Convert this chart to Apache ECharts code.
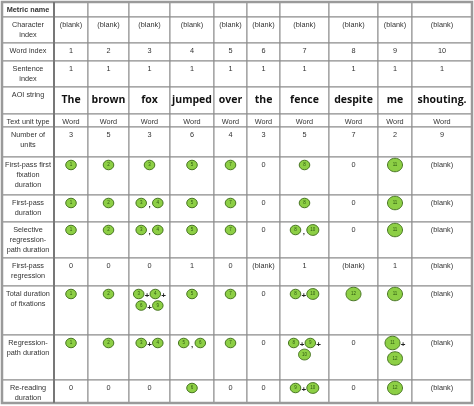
<!DOCTYPE html><html><head><meta charset="utf-8">
<script src="https://cdn.jsdelivr.net/npm/echarts@6/dist/echarts.min.js"></script>
<style>html,body{margin:0;padding:0;background:#fff}#c{width:474px;height:406px}</style></head>
<body><div id="c"></div><script>
const metricNames=["Metric name","Character\nindex","Word index","Sentence\nindex","AOI string","Text unit type","Number of\nunits","First-pass first\nfixation\nduration","First-pass\nduration","Selective\nregression-\npath duration","First-pass\nregression","Total duration\nof fixations","Regression-\npath duration","Re-reading\nduration"];
const words=["The","brown","fox","jumped","over","the","fence","despite","me","shouting."];
const charIndex=["(blank)","(blank)","(blank)","(blank)","(blank)","(blank)","(blank)","(blank)","(blank)","(blank)"];
const wordIndex=["1","2","3","4","5","6","7","8","9","10"];
const sentenceIndex=["1","1","1","1","1","1","1","1","1","1"];
const unitType=["Word","Word","Word","Word","Word","Word","Word","Word","Word","Word"];
const numUnits=["3","5","3","6","4","3","5","7","2","9"];
// "@n" = numbered fixation circle, "|" = new line
const firstFix=["@1","@2","@3","@5","@7","0","@8","0","@11","(blank)"];
const firstPass=["@1","@2","@3 , @4","@5","@7","0","@8","0","@11","(blank)"];
const selRegPath=["@1","@2","@3 , @4","@5","@7","0","@8 , @10","0","@11","(blank)"];
const fpRegression=["0","0","0","1","0","(blank)","1","(blank)","1","(blank)"];
const totalDur=["@1","@2","@3 + @4 +|@6 + @9","@5","@7","0","@8 + @10","@12","@11","(blank)"];
const regPath=["@1","@2","@3 + @4","@5 , @6","@7","0","@8 + @9 +|@10","0","@11 +|@12","(blank)"];
const rereading=["0","0","0","@6","0","0","@9 + @10","0","@12","(blank)"];
const rows=[Array(10).fill(""),charIndex,wordIndex,sentenceIndex,words,unitType,numUnits,firstFix,firstPass,selRegPath,fpRegression,totalDur,regPath,rereading];

// layout (pixel-space axis units)
const colEdges=[2,54,88,129,170,214,247,280,329,378,412,472];
const rowEdges=[2,17,43,61,87,114,127,157,195,222,258,286,335,380,403];

const data=[];
rows.forEach((r,ri)=>{data.push([0,ri,metricNames[ri]]);r.forEach((v,ci)=>data.push([ci+1,ri,v]));});

function renderItem(params,api){
  const d=data[params.dataIndex];const ci=d[0],ri=d[1],txt=d[2];
  const p0=api.coord([colEdges[ci],rowEdges[ri]]),p1=api.coord([colEdges[ci+1],rowEdges[ri+1]]);
  const x0=p0[0],y0=p0[1],x1=p1[0],y1=p1[1],cx=(x0+x1)/2;
  const ch=[{type:'rect',shape:{x:x0,y:y0,width:x1-x0,height:y1-y0},style:{fill:'#fff',stroke:'#8a8a8a',lineWidth:1}}];
  if(ci===0){
    ch.push({type:'text',style:{text:txt,x:cx,y:y0+3,align:'center',verticalAlign:'top',fontSize:7.3,fontWeight:ri===0?'bold':'normal',fill:'#333',fontFamily:'Liberation Sans',lineHeight:9.8}});
    return {type:'group',children:ch};
  }
  if(ri===4){
    ch.push({type:'text',style:{text:txt,x:cx,y:(y0+y1)/2,align:'center',verticalAlign:'middle',fontSize:10.5,fontWeight:'bold',fill:'#111',fontFamily:'Open Sans'}});
    return {type:'group',children:ch};
  }
  if(txt.indexOf('@')<0){
    ch.push({type:'text',style:{text:txt,x:cx,y:y0+4,align:'center',verticalAlign:'top',fontSize:7.3,fill:'#333',fontFamily:'Liberation Sans'}});
    return {type:'group',children:ch};
  }
  const lines=txt.split('|');
  let ly=y0+8;
  lines.forEach(line=>{
    const items=line.trim().split(' ').map(t=>{
      if(t[0]==='@'){const n=+t.slice(1);const r=n>=10?(n===10?6:7.5):5.3;return {c:true,n:n,w:2*r+1,r:r};}
      return {c:false,t:t,w:5};
    });
    const tw=items.reduce((s,i)=>s+i.w,0);
    let x=cx-tw/2;let maxr=5;
    items.forEach(it=>{
      if(it.c){
        maxr=Math.max(maxr,it.r);
        ch.push({type:'ellipse',shape:{cx:x+it.w/2,cy:ly,rx:it.r,ry:it.r*0.9},style:{fill:'#8dcf45',stroke:'#3d6b1a',lineWidth:0.9}});
        ch.push({type:'text',style:{text:String(it.n),x:x+it.w/2,y:ly,align:'center',verticalAlign:'middle',fontSize:4.5,fill:'#2e5a10',fontFamily:'Liberation Sans'}});
      } else {
        ch.push({type:'text',style:{text:it.t,x:x+it.w/2,y:ly+2,align:'center',verticalAlign:'middle',fontSize:8,fontWeight:'bold',fill:'#222',fontFamily:'Liberation Sans'}});
      }
      x+=it.w;
    });
    ly+=maxr*1.8+2;
  });
  return {type:'group',children:ch};
}

const chart=echarts.init(document.getElementById('c'),null,{renderer:'canvas'});
chart.setOption({
  animation:false,
  grid:{left:0,right:0,top:0,bottom:0},
  xAxis:{type:'value',min:0,max:474,show:false},
  yAxis:{type:'value',min:0,max:406,inverse:true,show:false},
  series:[
    {type:'custom',renderItem:renderItem,data:data,clip:false},
    {type:'custom',data:[0],renderItem:(p,api)=>{
      const a=api.coord([colEdges[0],rowEdges[0]]),b=api.coord([colEdges[11],rowEdges[14]]),m=api.coord([colEdges[1],0]);
      return {type:'group',children:[
        {type:'rect',shape:{x:a[0],y:a[1],width:b[0]-a[0],height:b[1]-a[1]},style:{fill:null,stroke:'#9a9a9a',lineWidth:2.5}},
        {type:'line',shape:{x1:m[0],y1:a[1],x2:m[0],y2:b[1]},style:{stroke:'#777',lineWidth:2}}
      ]};
    }}
  ]
});
</script></body></html>
